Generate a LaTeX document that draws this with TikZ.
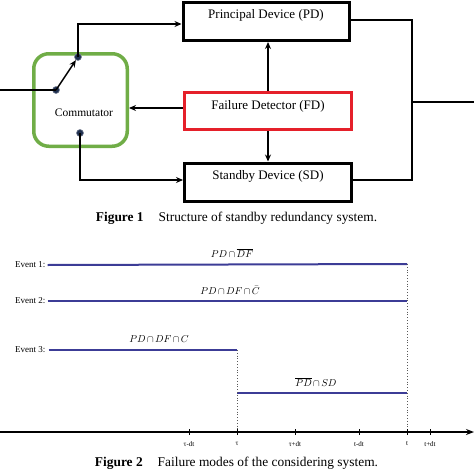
\documentclass[tikz,border=0pt]{standalone}
\usepackage{fontspec}
\setmainfont{Liberation Serif}
\usetikzlibrary{arrows.meta,calc}
\definecolor{evblue}{HTML}{3C3C96}
\definecolor{commgreen}{HTML}{70AD47}
\definecolor{fdred}{HTML}{E5202A}
\definecolor{dotnavy}{HTML}{1F2F4F}
\tikzset{
  devbox/.style={draw=black,line width=3pt,minimum width=166pt,minimum height=38pt,inner sep=0pt},
  fdbox/.style={draw=fdred,line width=3pt,minimum width=167pt,minimum height=37pt,inner sep=0pt},
  commbox/.style={draw=commgreen,line width=3.5pt,rounded corners=15pt,minimum width=93.5pt,minimum height=92.5pt,inner sep=0pt},
  boxtext/.style={font=\fontsize{13}{15}\selectfont,inner sep=0pt},
  sw/.style={circle,fill=dotnavy,draw=dotnavy!60,line width=0.6pt,minimum size=7pt,inner sep=0pt},
  conn/.style={black,line width=1.5pt},
  arr/.style={conn,-{Stealth[length=7pt,width=6pt]}},
  evline/.style={evblue,line width=2pt},
  evlabel/.style={font=\fontsize{9}{11}\selectfont,inner sep=0pt,anchor=west},
  mathlabel/.style={font=\fontsize{10.2}{12}\selectfont,inner sep=0pt,execute at begin node={\medmuskip=2.5mu}},
  dots/.style={gray!70!black,line width=0.8pt,dotted},
  ticklabel/.style={font=\fontsize{7}{8}\selectfont,inner sep=0pt},
  caption/.style={font=\fontsize{13.4}{15}\selectfont,inner sep=0pt},
}
\begin{document}
\begin{tikzpicture}[x=1pt,y=-1pt]
\useasboundingbox (0,0) rectangle (474,471);
% ---------- Figure 1 ----------
\node[devbox] (pd) at (266,21.5) {};
\node[boxtext] (pdt) at (266,15) {Principal Device (PD)};
\node[fdbox] (fd) at (268,111) {};
\node[boxtext] (fdt) at (268,106) {Failure Detector (FD)};
\node[devbox,minimum width=167pt] (sd) at (268,182) {};
\node[boxtext] (sdt) at (268,176) {Standby Device (SD)};
\node[commbox] (comm) at (80.5,100) {};
\node[font=\fontsize{11.5}{13}\selectfont,inner sep=0pt] (commt) at (84,113) {Commutator};
\node[sw] (din) at (56,90) {};
\node[sw] (dtop) at (78,57) {};
\node[sw] (dbot) at (80,133) {};
\coordinate (in0) at (0,90);
\coordinate (jt) at (412,102);
\coordinate (out) at (474,102);
\draw[conn] (in0) -- (din.center);
\draw[arr] (din.center) -- (dtop);
\draw[arr] (dtop.center) |- ([yshift=-2.5pt]pd.west);
\draw[arr] ([yshift=3pt]fd.west) -- ([yshift=3pt]fd.west -| comm.east);
\draw[arr] (dbot.center) |- ([yshift=2pt]sd.west);
\draw[arr] (fd.north) -- (fd.north |- pd.south);
\draw[arr] (fd.south) -- (fd.south |- sd.north);
\draw[conn] ([yshift=1.5pt]pd.east) -| (jt);
\draw[conn] ([yshift=2pt]sd.east) -| (jt);
\draw[conn] (jt) -- (out);
\node[caption] (cap1) at (236.5,218) {\textbf{Figure 1}\hspace{15pt}Structure of standby redundancy system.};
% ---------- Figure 2 ----------
\node[evlabel] (ev1) at (15,265) {Event 1:};
\node[evlabel] (ev2) at (15,301) {Event 2:};
\node[evlabel] (ev3) at (15,350) {Event 3:};
\coordinate (e1end) at (407,264);
\coordinate (e2end) at (407,301);
\coordinate (e3end) at (237,350);
\coordinate (e4start) at (237,393);
\coordinate (e4end) at (407,393);
\coordinate (ax0) at (0,432);
\coordinate (ax1) at (474,432);
\coordinate (taupt) at (237,432);
\coordinate (tpt) at (407,432);
\draw[evline] ([xshift=2pt]ev1.east) -- (e1end);
\draw[evline] ([xshift=2pt]ev2.east) -- (e2end);
\draw[evline] ([xshift=3pt]ev3.east) -- (e3end);
\draw[evline] (e4start) -- (e4end);
\draw[dots] (e3end) -- (taupt);
\draw[dots] (e1end) -- (tpt);
\node[mathlabel] (l1) at (232,253) {$PD\cap\overline{DF}$};
\node[mathlabel] (l2) at (230,290) {$PD\cap DF\cap\bar{C}$};
\node[mathlabel] (l3) at (159,339) {$PD\cap DF\cap C$};
\node[mathlabel] (l4) at (316,382) {$\overline{PD}\cap SD$};
\draw[conn,-{Stealth[length=8pt,width=6pt]}] (ax0) -- (ax1);
\foreach \x/\n/\t in {189/a/τ-dt,237/b/τ,295/c/τ+dt,359/d/t-dt,407/e/t,430/f/t+dt}{
  \draw[black,line width=0.6pt] (\x,429) -- (\x,435);
  \node[ticklabel] (tk\n) at (\x,444) {\t};
}
\node[caption] (cap2) at (236.5,463) {\textbf{Figure 2}\hspace{15pt}Failure modes of the considering system.};
\end{tikzpicture}
\end{document}
